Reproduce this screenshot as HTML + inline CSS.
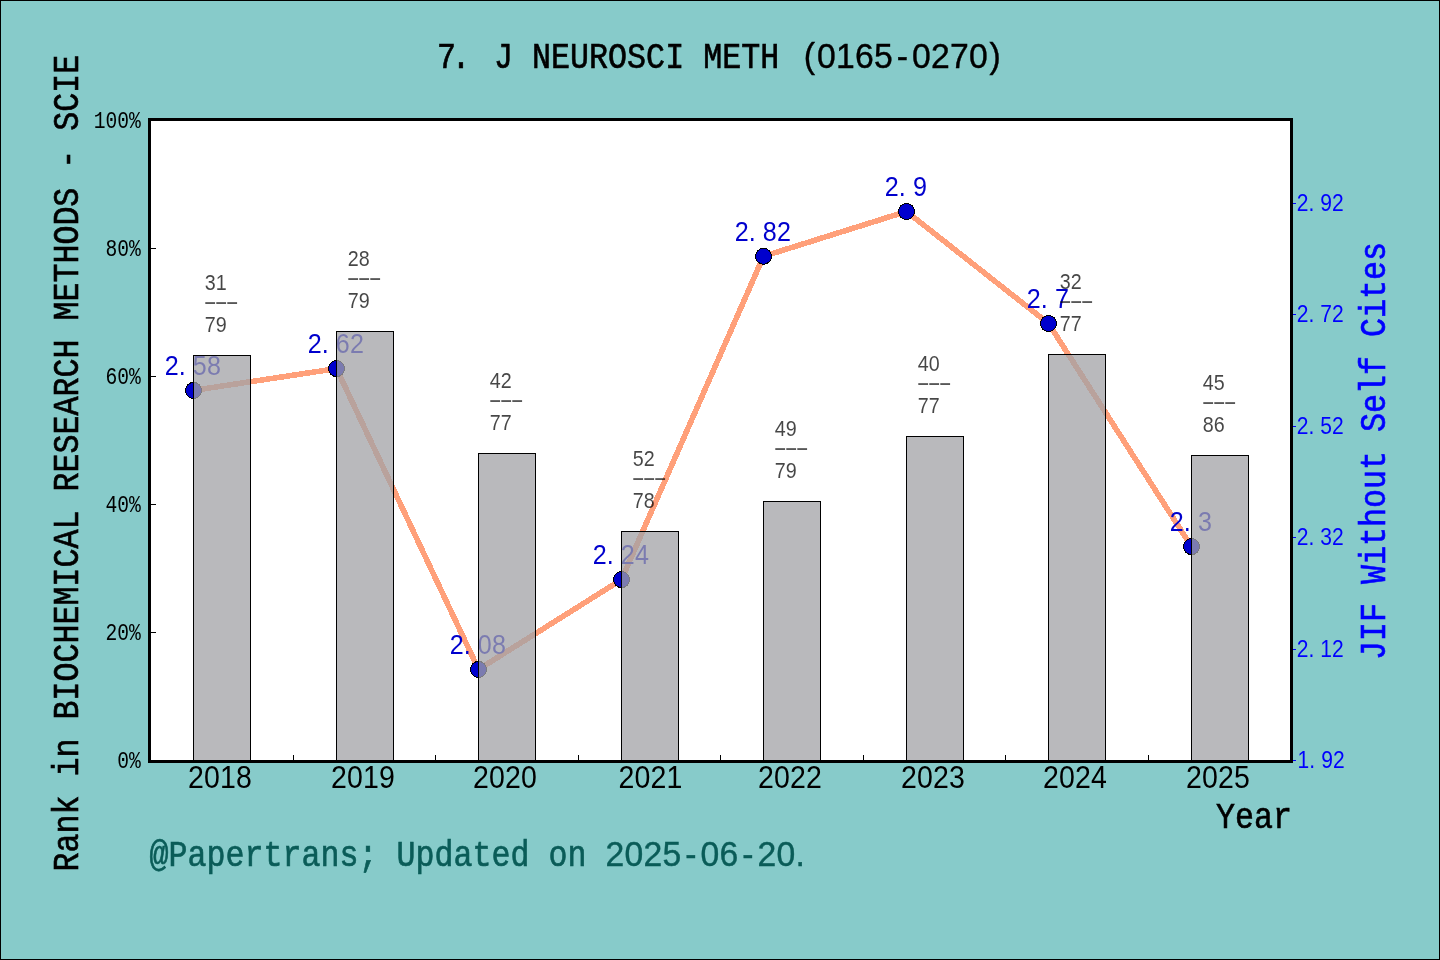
<!DOCTYPE html>
<html lang="en"><head><meta charset="utf-8"><title>7. J NEUROSCI METH (0165-0270)</title>
<style>html,body{margin:0;padding:0;background:#87cbca;overflow:hidden}svg{display:block}text{white-space:pre}</style>
</head><body>
<svg width="1440" height="960" viewBox="0 0 1440 960">
<rect x="0" y="0" width="1440" height="960" fill="#000"/>
<rect x="1" y="1" width="1438" height="958" fill="#87cbca"/>
<rect x="149" y="119" width="1143" height="643" fill="#fff"/>
<polyline points="193.5,390.4 336.5,368.6 478.5,669.4 621.5,579.6 763.5,256.3 906.5,211.5 1048.5,323.5 1191.5,546.6" fill="none" stroke="#ffa07a" stroke-width="5.6" stroke-linejoin="round" shape-rendering="crispEdges"/>
<circle cx="193.5" cy="390.4" r="8" fill="#0000cd" stroke="#000" stroke-width="1" shape-rendering="crispEdges"/>
<circle cx="336.5" cy="368.6" r="8" fill="#0000cd" stroke="#000" stroke-width="1" shape-rendering="crispEdges"/>
<circle cx="478.5" cy="669.4" r="8" fill="#0000cd" stroke="#000" stroke-width="1" shape-rendering="crispEdges"/>
<circle cx="621.5" cy="579.6" r="8" fill="#0000cd" stroke="#000" stroke-width="1" shape-rendering="crispEdges"/>
<circle cx="763.5" cy="256.3" r="8" fill="#0000cd" stroke="#000" stroke-width="1" shape-rendering="crispEdges"/>
<circle cx="906.5" cy="211.5" r="8" fill="#0000cd" stroke="#000" stroke-width="1" shape-rendering="crispEdges"/>
<circle cx="1048.5" cy="323.5" r="8" fill="#0000cd" stroke="#000" stroke-width="1" shape-rendering="crispEdges"/>
<circle cx="1191.5" cy="546.6" r="8" fill="#0000cd" stroke="#000" stroke-width="1" shape-rendering="crispEdges"/>
<text transform="translate(164.6,375) scale(0.914,1)" font-family="'Liberation Sans', sans-serif" font-size="27.49" fill="#0000cd" x="0.07 15.45 30.92 46.35">2.58</text>
<text transform="translate(307.6,353.2) scale(0.914,1)" font-family="'Liberation Sans', sans-serif" font-size="27.49" fill="#0000cd" x="0.07 15.45 30.92 46.35">2.62</text>
<text transform="translate(449.6,654) scale(0.914,1)" font-family="'Liberation Sans', sans-serif" font-size="27.49" fill="#0000cd" x="0.07 15.45 30.92 46.35">2.08</text>
<text transform="translate(592.6,564.2) scale(0.914,1)" font-family="'Liberation Sans', sans-serif" font-size="27.49" fill="#0000cd" x="0.07 15.45 30.92 46.35">2.24</text>
<text transform="translate(734.6,240.9) scale(0.914,1)" font-family="'Liberation Sans', sans-serif" font-size="27.49" fill="#0000cd" x="0.07 15.45 30.92 46.35">2.82</text>
<text transform="translate(884.65,196.1) scale(0.914,1)" font-family="'Liberation Sans', sans-serif" font-size="27.49" fill="#0000cd" x="0.07 15.45 30.92">2.9</text>
<text transform="translate(1026.65,308.1) scale(0.914,1)" font-family="'Liberation Sans', sans-serif" font-size="27.49" fill="#0000cd" x="0.07 15.45 30.92">2.7</text>
<text transform="translate(1169.65,531.2) scale(0.914,1)" font-family="'Liberation Sans', sans-serif" font-size="27.49" fill="#0000cd" x="0.07 15.45 30.92">2.3</text>
<rect x="193.5" y="355.5" width="57" height="405.9" fill="rgba(162,163,166,0.755)" stroke="#000" stroke-width="1"/>
<rect x="336.5" y="331.5" width="57" height="429.9" fill="rgba(162,163,166,0.755)" stroke="#000" stroke-width="1"/>
<rect x="478.5" y="453.5" width="57" height="307.9" fill="rgba(162,163,166,0.755)" stroke="#000" stroke-width="1"/>
<rect x="621.5" y="531.5" width="57" height="229.9" fill="rgba(162,163,166,0.755)" stroke="#000" stroke-width="1"/>
<rect x="763.5" y="501.5" width="57" height="259.9" fill="rgba(162,163,166,0.755)" stroke="#000" stroke-width="1"/>
<rect x="906.5" y="436.5" width="57" height="324.9" fill="rgba(162,163,166,0.755)" stroke="#000" stroke-width="1"/>
<rect x="1048.5" y="354.5" width="57" height="406.9" fill="rgba(162,163,166,0.755)" stroke="#000" stroke-width="1"/>
<rect x="1191.5" y="455.5" width="57" height="305.9" fill="rgba(162,163,166,0.755)" stroke="#000" stroke-width="1"/>
<text transform="translate(204.7,289.8) scale(0.914,1)" font-family="'Liberation Sans', sans-serif" font-size="21.55" fill="rgba(0,0,0,0.725)" x="0.05 12.14">31</text>
<text transform="translate(203.4,308.6) scale(1.626,1)" font-family="'Liberation Sans', sans-serif" font-size="24.7" fill="rgba(0,0,0,0.66)" dx="0 -1.45 -1.45">---</text>
<text transform="translate(204.7,331.7) scale(0.914,1)" font-family="'Liberation Sans', sans-serif" font-size="21.55" fill="rgba(0,0,0,0.725)" x="0.05 12.14">79</text>
<text transform="translate(347.7,265.8) scale(0.914,1)" font-family="'Liberation Sans', sans-serif" font-size="21.55" fill="rgba(0,0,0,0.725)" x="0.05 12.14">28</text>
<text transform="translate(346.4,284.6) scale(1.626,1)" font-family="'Liberation Sans', sans-serif" font-size="24.7" fill="rgba(0,0,0,0.66)" dx="0 -1.45 -1.45">---</text>
<text transform="translate(347.7,307.7) scale(0.914,1)" font-family="'Liberation Sans', sans-serif" font-size="21.55" fill="rgba(0,0,0,0.725)" x="0.05 12.14">79</text>
<text transform="translate(489.7,387.8) scale(0.914,1)" font-family="'Liberation Sans', sans-serif" font-size="21.55" fill="rgba(0,0,0,0.725)" x="0.05 12.14">42</text>
<text transform="translate(488.4,406.6) scale(1.626,1)" font-family="'Liberation Sans', sans-serif" font-size="24.7" fill="rgba(0,0,0,0.66)" dx="0 -1.45 -1.45">---</text>
<text transform="translate(489.7,429.7) scale(0.914,1)" font-family="'Liberation Sans', sans-serif" font-size="21.55" fill="rgba(0,0,0,0.725)" x="0.05 12.14">77</text>
<text transform="translate(632.7,465.8) scale(0.914,1)" font-family="'Liberation Sans', sans-serif" font-size="21.55" fill="rgba(0,0,0,0.725)" x="0.05 12.14">52</text>
<text transform="translate(631.4,484.6) scale(1.626,1)" font-family="'Liberation Sans', sans-serif" font-size="24.7" fill="rgba(0,0,0,0.66)" dx="0 -1.45 -1.45">---</text>
<text transform="translate(632.7,507.7) scale(0.914,1)" font-family="'Liberation Sans', sans-serif" font-size="21.55" fill="rgba(0,0,0,0.725)" x="0.05 12.14">78</text>
<text transform="translate(774.7,435.8) scale(0.914,1)" font-family="'Liberation Sans', sans-serif" font-size="21.55" fill="rgba(0,0,0,0.725)" x="0.05 12.14">49</text>
<text transform="translate(773.4,454.6) scale(1.626,1)" font-family="'Liberation Sans', sans-serif" font-size="24.7" fill="rgba(0,0,0,0.66)" dx="0 -1.45 -1.45">---</text>
<text transform="translate(774.7,477.7) scale(0.914,1)" font-family="'Liberation Sans', sans-serif" font-size="21.55" fill="rgba(0,0,0,0.725)" x="0.05 12.14">79</text>
<text transform="translate(917.7,370.8) scale(0.914,1)" font-family="'Liberation Sans', sans-serif" font-size="21.55" fill="rgba(0,0,0,0.725)" x="0.05 12.14">40</text>
<text transform="translate(916.4,389.6) scale(1.626,1)" font-family="'Liberation Sans', sans-serif" font-size="24.7" fill="rgba(0,0,0,0.66)" dx="0 -1.45 -1.45">---</text>
<text transform="translate(917.7,412.7) scale(0.914,1)" font-family="'Liberation Sans', sans-serif" font-size="21.55" fill="rgba(0,0,0,0.725)" x="0.05 12.14">77</text>
<text transform="translate(1059.7,288.8) scale(0.914,1)" font-family="'Liberation Sans', sans-serif" font-size="21.55" fill="rgba(0,0,0,0.725)" x="0.05 12.14">32</text>
<text transform="translate(1058.4,307.6) scale(1.626,1)" font-family="'Liberation Sans', sans-serif" font-size="24.7" fill="rgba(0,0,0,0.66)" dx="0 -1.45 -1.45">---</text>
<text transform="translate(1059.7,330.7) scale(0.914,1)" font-family="'Liberation Sans', sans-serif" font-size="21.55" fill="rgba(0,0,0,0.725)" x="0.05 12.14">77</text>
<text transform="translate(1202.7,389.8) scale(0.914,1)" font-family="'Liberation Sans', sans-serif" font-size="21.55" fill="rgba(0,0,0,0.725)" x="0.05 12.14">45</text>
<text transform="translate(1201.4,408.6) scale(1.626,1)" font-family="'Liberation Sans', sans-serif" font-size="24.7" fill="rgba(0,0,0,0.66)" dx="0 -1.45 -1.45">---</text>
<text transform="translate(1202.7,431.7) scale(0.914,1)" font-family="'Liberation Sans', sans-serif" font-size="21.55" fill="rgba(0,0,0,0.725)" x="0.05 12.14">86</text>
<rect x="151" y="248" width="5" height="1" fill="#000"/>
<rect x="151" y="376" width="5" height="1" fill="#000"/>
<rect x="151" y="504" width="5" height="1" fill="#000"/>
<rect x="151" y="632" width="5" height="1" fill="#000"/>
<rect x="293" y="755" width="1" height="5" fill="#000"/>
<rect x="435" y="755" width="1" height="5" fill="#000"/>
<rect x="578" y="755" width="1" height="5" fill="#000"/>
<rect x="720" y="755" width="1" height="5" fill="#000"/>
<rect x="863" y="755" width="1" height="5" fill="#000"/>
<rect x="1005" y="755" width="1" height="5" fill="#000"/>
<rect x="1148" y="755" width="1" height="5" fill="#000"/>
<path d="M148 118H1293V763H148Z M151 121V760H1290V121Z" fill="#000" fill-rule="evenodd"/>
<rect x="1293" y="760" width="3" height="1" fill="#0000ff"/>
<text transform="translate(1297.5,767.8) scale(0.914,1)" font-family="'Liberation Sans', sans-serif" font-size="23.01" fill="#0000ff" x="0.06 12.93 25.88 38.79">1.92</text>
<rect x="1293" y="649" width="3" height="1" fill="#0000ff"/>
<text transform="translate(1296.6,656.8) scale(0.914,1)" font-family="'Liberation Sans', sans-serif" font-size="23.01" fill="#0000ff" x="0.06 12.93 25.88 38.79">2.12</text>
<rect x="1293" y="537" width="3" height="1" fill="#0000ff"/>
<text transform="translate(1296.6,544.8) scale(0.914,1)" font-family="'Liberation Sans', sans-serif" font-size="23.01" fill="#0000ff" x="0.06 12.93 25.88 38.79">2.32</text>
<rect x="1293" y="426" width="3" height="1" fill="#0000ff"/>
<text transform="translate(1296.6,433.8) scale(0.914,1)" font-family="'Liberation Sans', sans-serif" font-size="23.01" fill="#0000ff" x="0.06 12.93 25.88 38.79">2.52</text>
<rect x="1293" y="314" width="3" height="1" fill="#0000ff"/>
<text transform="translate(1296.6,321.8) scale(0.914,1)" font-family="'Liberation Sans', sans-serif" font-size="23.01" fill="#0000ff" x="0.06 12.93 25.88 38.79">2.72</text>
<rect x="1293" y="203" width="3" height="1" fill="#0000ff"/>
<text transform="translate(1296.6,210.8) scale(0.914,1)" font-family="'Liberation Sans', sans-serif" font-size="23.01" fill="#0000ff" x="0.06 12.93 25.88 38.79">2.92</text>
<text transform="translate(117.3,768.4) scale(0.7993,1)" font-family="'Liberation Mono', monospace" font-size="24.6" fill="#000">0%</text>
<text transform="translate(105.5,640.4) scale(0.7993,1)" font-family="'Liberation Mono', monospace" font-size="24.6" fill="#000">20%</text>
<text transform="translate(105.5,512.4) scale(0.7993,1)" font-family="'Liberation Mono', monospace" font-size="24.6" fill="#000">40%</text>
<text transform="translate(105.5,384.4) scale(0.7993,1)" font-family="'Liberation Mono', monospace" font-size="24.6" fill="#000">60%</text>
<text transform="translate(105.5,256.4) scale(0.7993,1)" font-family="'Liberation Mono', monospace" font-size="24.6" fill="#000">80%</text>
<text transform="translate(93.7,128.4) scale(0.7993,1)" font-family="'Liberation Mono', monospace" font-size="24.6" fill="#000">100%</text>
<text transform="translate(187.9,787.8) scale(0.914,1)" font-family="'Liberation Sans', sans-serif" font-size="31.2" fill="#000" x="0.08 17.58 35.09 52.6">2018</text>
<text transform="translate(330.9,787.8) scale(0.914,1)" font-family="'Liberation Sans', sans-serif" font-size="31.2" fill="#000" x="0.08 17.58 35.09 52.6">2019</text>
<text transform="translate(472.9,787.8) scale(0.914,1)" font-family="'Liberation Sans', sans-serif" font-size="31.2" fill="#000" x="0.08 17.58 35.09 52.6">2020</text>
<text transform="translate(618.5,787.8) scale(0.914,1)" font-family="'Liberation Sans', sans-serif" font-size="31.2" fill="#000" x="0.08 17.58 35.09 52.6">2021</text>
<text transform="translate(757.9,787.8) scale(0.914,1)" font-family="'Liberation Sans', sans-serif" font-size="31.2" fill="#000" x="0.08 17.58 35.09 52.6">2022</text>
<text transform="translate(900.9,787.8) scale(0.914,1)" font-family="'Liberation Sans', sans-serif" font-size="31.2" fill="#000" x="0.08 17.58 35.09 52.6">2023</text>
<text transform="translate(1042.9,787.8) scale(0.914,1)" font-family="'Liberation Sans', sans-serif" font-size="31.2" fill="#000" x="0.08 17.58 35.09 52.6">2024</text>
<text transform="translate(1185.9,787.8) scale(0.914,1)" font-family="'Liberation Sans', sans-serif" font-size="31.2" fill="#000" x="0.08 17.58 35.09 52.6">2025</text>
<text transform="translate(437,68.2) scale(0.8697,1)" font-family="'Liberation Mono', monospace" font-size="36.4" fill="#000" stroke="#000" stroke-width="0.65" dx="0 -5.29 5.29 0 0 0 0 0 0 0 0 0 0 0 0 0 0 0">7. J NEUROSCI METH</text>
<text transform="translate(798,68.2) scale(0.95,1)" font-family="'Liberation Sans', sans-serif" font-size="35.53" fill="#000" stroke="#000" stroke-width="0.4" x="6 20.12 40.12 60.12 80.12 104.08 120.12 140.12 160.12 180.12 201.67">(0165-0270)</text>
<text transform="translate(78.3,871.5) rotate(-90) scale(0.8697,1)" font-family="'Liberation Mono', monospace" font-size="36.4" fill="#000" stroke="#000" stroke-width="0.65">Rank in BIOCHEMICAL RESEARCH METHODS - SCIE</text>
<text transform="translate(1385,660) rotate(-90) scale(0.8697,1)" font-family="'Liberation Mono', monospace" font-size="36.4" fill="#0000ff" stroke="#0000ff" stroke-width="0.65">JIF Without Self Cites</text>
<text transform="translate(1215.9,828.4) scale(0.8697,1)" font-family="'Liberation Mono', monospace" font-size="36.4" fill="#000" stroke="#000" stroke-width="0.65">Year</text>
<text transform="translate(149.5,866) scale(0.8697,1)" font-family="'Liberation Mono', monospace" font-size="36.4" fill="#0a5c58" stroke="#0a5c58" stroke-width="0.65">@Papertrans; Updated on</text>
<text transform="translate(605.5,866) scale(0.95,1)" font-family="'Liberation Sans', sans-serif" font-size="35.53" fill="#0a5c58" stroke="#0a5c58" stroke-width="0.4" x="0.12 20.12 40.12 60.12 84.08 100.12 120.12 144.08 160.12 180.12 200.05">2025-06-20.</text>
</svg>
</body></html>
